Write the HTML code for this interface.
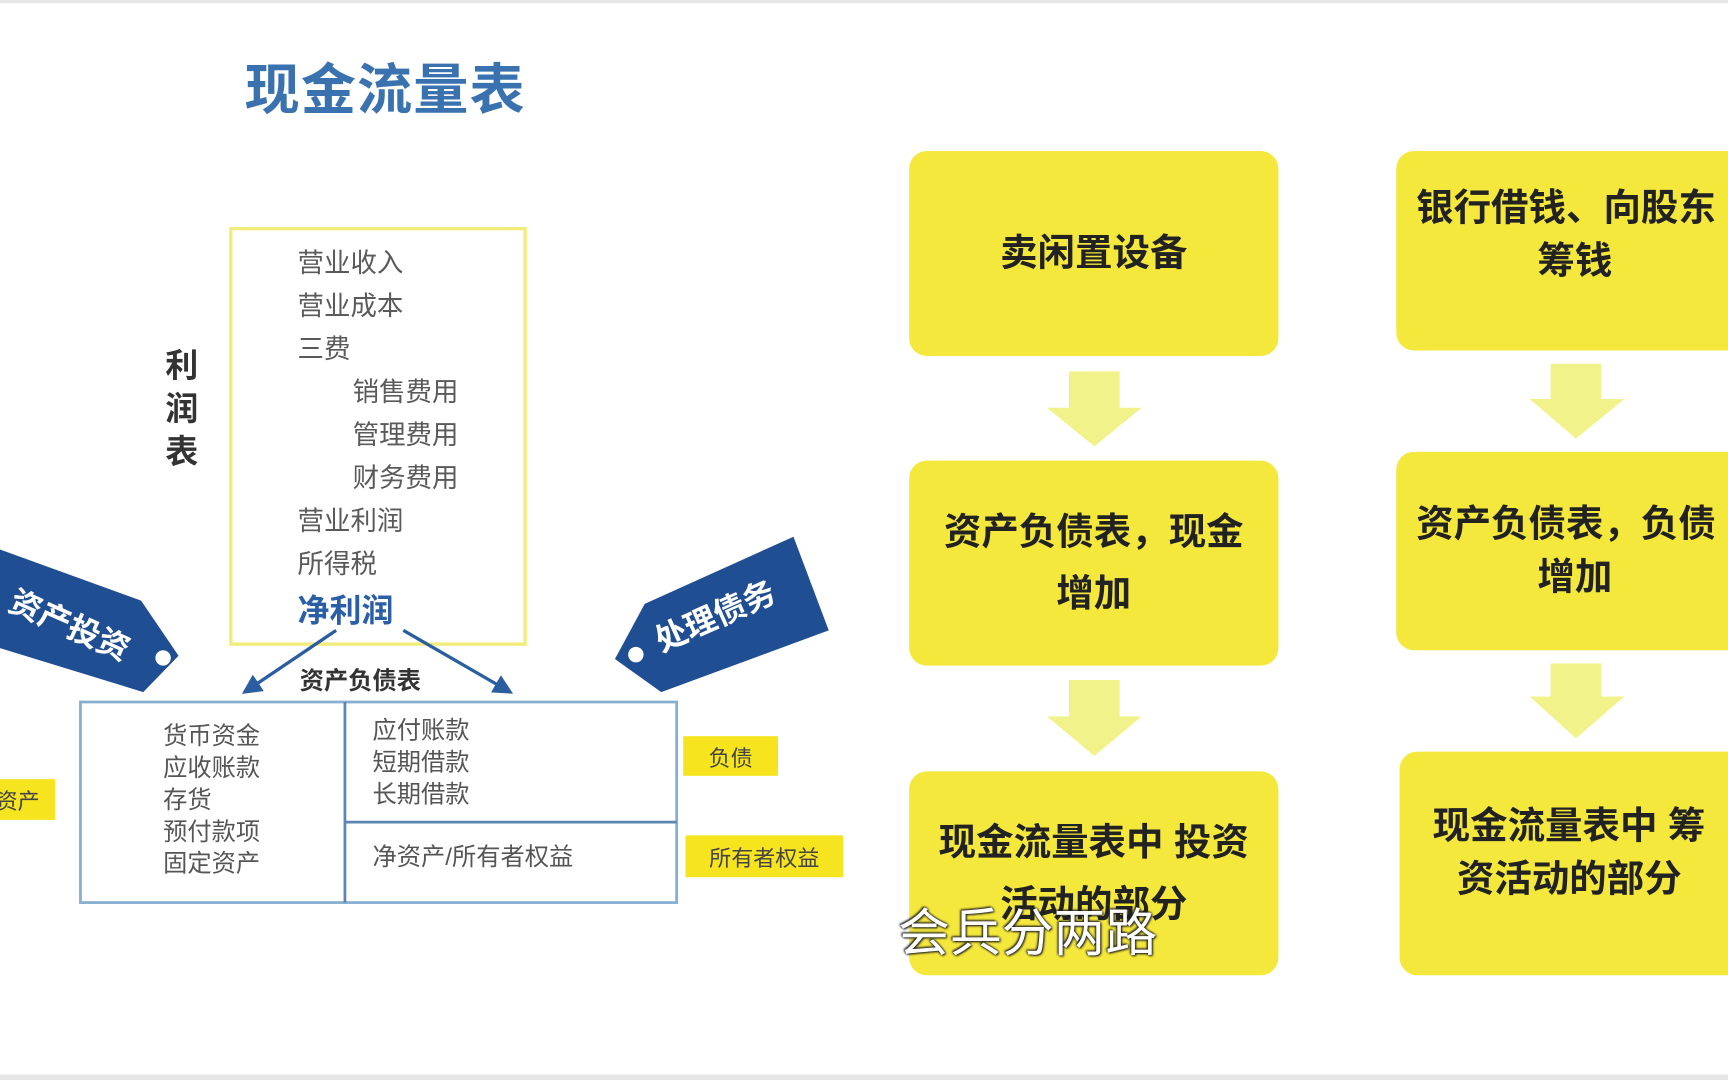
<!DOCTYPE html>
<html><head><meta charset="utf-8"><style>
html,body{margin:0;padding:0;background:#fff;width:1728px;height:1080px;overflow:hidden}
#w{position:absolute;left:0;top:0;width:1568px;height:980px;transform:scale(1.10204);transform-origin:0 0;font-family:"Liberation Sans","Noto Sans CJK SC",sans-serif}
.a{position:absolute;white-space:nowrap}
.g{color:#5a5a5a;font-size:24px;line-height:24px}
.t{color:#555;font-size:22px;line-height:29px}
.yb{position:absolute;background:#f4e83c;border-radius:16px;display:flex;align-items:center;justify-content:center;text-align:center;font-weight:bold;font-size:34px;line-height:56px;color:#222;overflow:visible;white-space:nowrap}
.yl{position:absolute;background:#f6e41e;color:#444;font-size:20px;display:flex;align-items:center;justify-content:center}
.l2{display:block;text-align:left;padding-left:110px}
</style></head><body><div id="w">
<div style="position:absolute;left:0;top:0;width:1568px;height:3px;background:#e6e6e6"></div>
<div style="position:absolute;left:0;top:975px;width:1568px;height:5px;background:#e6e6e6"></div>
<div class="a" style="left:222px;top:54px;font-size:50px;line-height:56px;color:#3a72b0;font-weight:bold;letter-spacing:1px">现金流量表</div>
<div style="position:absolute;left:208px;top:206px;width:264px;height:374px;border:3px solid #f2ec7a"></div>
<div class="a" style="left:150px;top:313px;font-size:30px;line-height:39px;font-weight:bold;color:#333;width:34px;white-space:normal">利润表</div>
<div class="a g" style="left:270px;top:228px">营业收入</div>
<div class="a g" style="left:270px;top:267px">营业成本</div>
<div class="a g" style="left:270px;top:306px">三费</div>
<div class="a g" style="left:320px;top:345px">销售费用</div>
<div class="a g" style="left:320px;top:384px">管理费用</div>
<div class="a g" style="left:320px;top:423px">财务费用</div>
<div class="a g" style="left:270px;top:462px">营业利润</div>
<div class="a g" style="left:270px;top:501px">所得税</div>
<div class="a" style="left:270px;top:540px;font-size:29px;line-height:30px;font-weight:bold;color:#2a5fa8">净利润</div>
<svg class="a" style="left:0;top:0" width="1568" height="980">
<defs><marker id="m" markerWidth="6" markerHeight="6" refX="5" refY="3" orient="auto"><path d="M0,0 L6,3 L0,6z" fill="#2a5ea0"/></marker></defs>
<line x1="305" y1="572" x2="222" y2="628" stroke="#2a5ea0" stroke-width="3" marker-end="url(#m)"/>
<line x1="366" y1="572" x2="463" y2="628" stroke="#2a5ea0" stroke-width="3" marker-end="url(#m)"/>
<polygon points="-10,495 128,545 162,595 130,628 -10,585" fill="#1f4e93"/>
<circle cx="148" cy="597" r="7" fill="#fff"/>
<text x="0" y="0" transform="translate(6,553) rotate(24)" font-size="29" font-weight="bold" fill="#fff" font-family="Liberation Sans,Noto Sans CJK SC,sans-serif">资产投资</text>
<polygon points="558,598 585,548 720,487 752,572 600,628" fill="#1f4e93"/>
<circle cx="577" cy="594" r="7" fill="#fff"/>
<text x="0" y="0" transform="translate(600,592) rotate(-24)" font-size="29" font-weight="bold" fill="#fff" font-family="Liberation Sans,Noto Sans CJK SC,sans-serif">处理债务</text>
<rect x="73" y="637" width="541" height="182" fill="none" stroke="#86aed0" stroke-width="2.5"/>
<line x1="313" y1="637" x2="313" y2="819" stroke="#5a86b0" stroke-width="2.5"/>
<line x1="313" y1="746" x2="614" y2="746" stroke="#5a86b0" stroke-width="2.5"/>
<g fill="#f1f38a">
<rect x="970" y="337" width="46" height="34"/><polygon points="950,370 1036,370 993,405"/>
<rect x="970" y="617" width="46" height="34"/><polygon points="950,650 1036,650 993,686"/>
<rect x="1407" y="330" width="46" height="34"/><polygon points="1388,362 1474,362 1430,398"/>
<rect x="1407" y="602" width="46" height="34"/><polygon points="1388,632 1474,632 1430,670"/>
</g>
</svg>
<div class="a" style="left:272px;top:605px;font-size:22px;line-height:26px;font-weight:bold;color:#333">资产负债表</div>
<div class="a t" style="left:148px;top:653px">货币资金<br>应收账款<br>存货<br>预付款项<br>固定资产</div>
<div class="a t" style="left:338px;top:648px">应付账款<br>短期借款<br>长期借款</div>
<div class="a t" style="left:338px;top:763px">净资产/所有者权益</div>
<div class="yl" style="left:620px;top:668px;width:86px;height:36px">负债</div>
<div class="yl" style="left:622px;top:758px;width:143px;height:38px">所有者权益</div>
<div class="yl" style="left:-40px;top:707px;width:90px;height:37px;justify-content:flex-end;padding-right:14px;box-sizing:border-box">资产</div>
<div class="yb" style="left:825px;top:137px;width:335px;height:186px">卖闲置设备</div>
<div class="yb" style="left:825px;top:418px;width:335px;height:186px">资产负债表，现金<br>增加</div>
<div class="yb" style="left:825px;top:700px;width:335px;height:185px">现金流量表中 投资<br>活动的部分</div>
<div class="yb" style="left:1267px;top:137px;width:335px;height:181px;line-height:48px;padding-bottom:30px;box-sizing:border-box;justify-content:flex-start;padding-left:18px"><div style="text-align:left">银行借钱、向股东<span class="l2">筹钱</span></div></div>
<div class="yb" style="left:1267px;top:410px;width:335px;height:180px;line-height:48px;justify-content:flex-start;padding-left:18px;box-sizing:border-box"><div style="text-align:left">资产负债表，负债<span class="l2">增加</span></div></div>
<div class="yb" style="left:1270px;top:682px;width:335px;height:203px;line-height:48px;padding-bottom:20px;box-sizing:border-box;justify-content:flex-start;padding-left:30px"><div style="text-align:left">现金流量表中 筹<span style="display:block;padding-left:22px">资活动的部分</span></div></div>
<div class="a" style="left:815px;top:820px;font-size:47px;line-height:54px;color:#fff;text-shadow:0 0 2px #222,1px 1px 2px #222,-1px -1px 2px #222">会兵分两路</div>
</div></body></html>
